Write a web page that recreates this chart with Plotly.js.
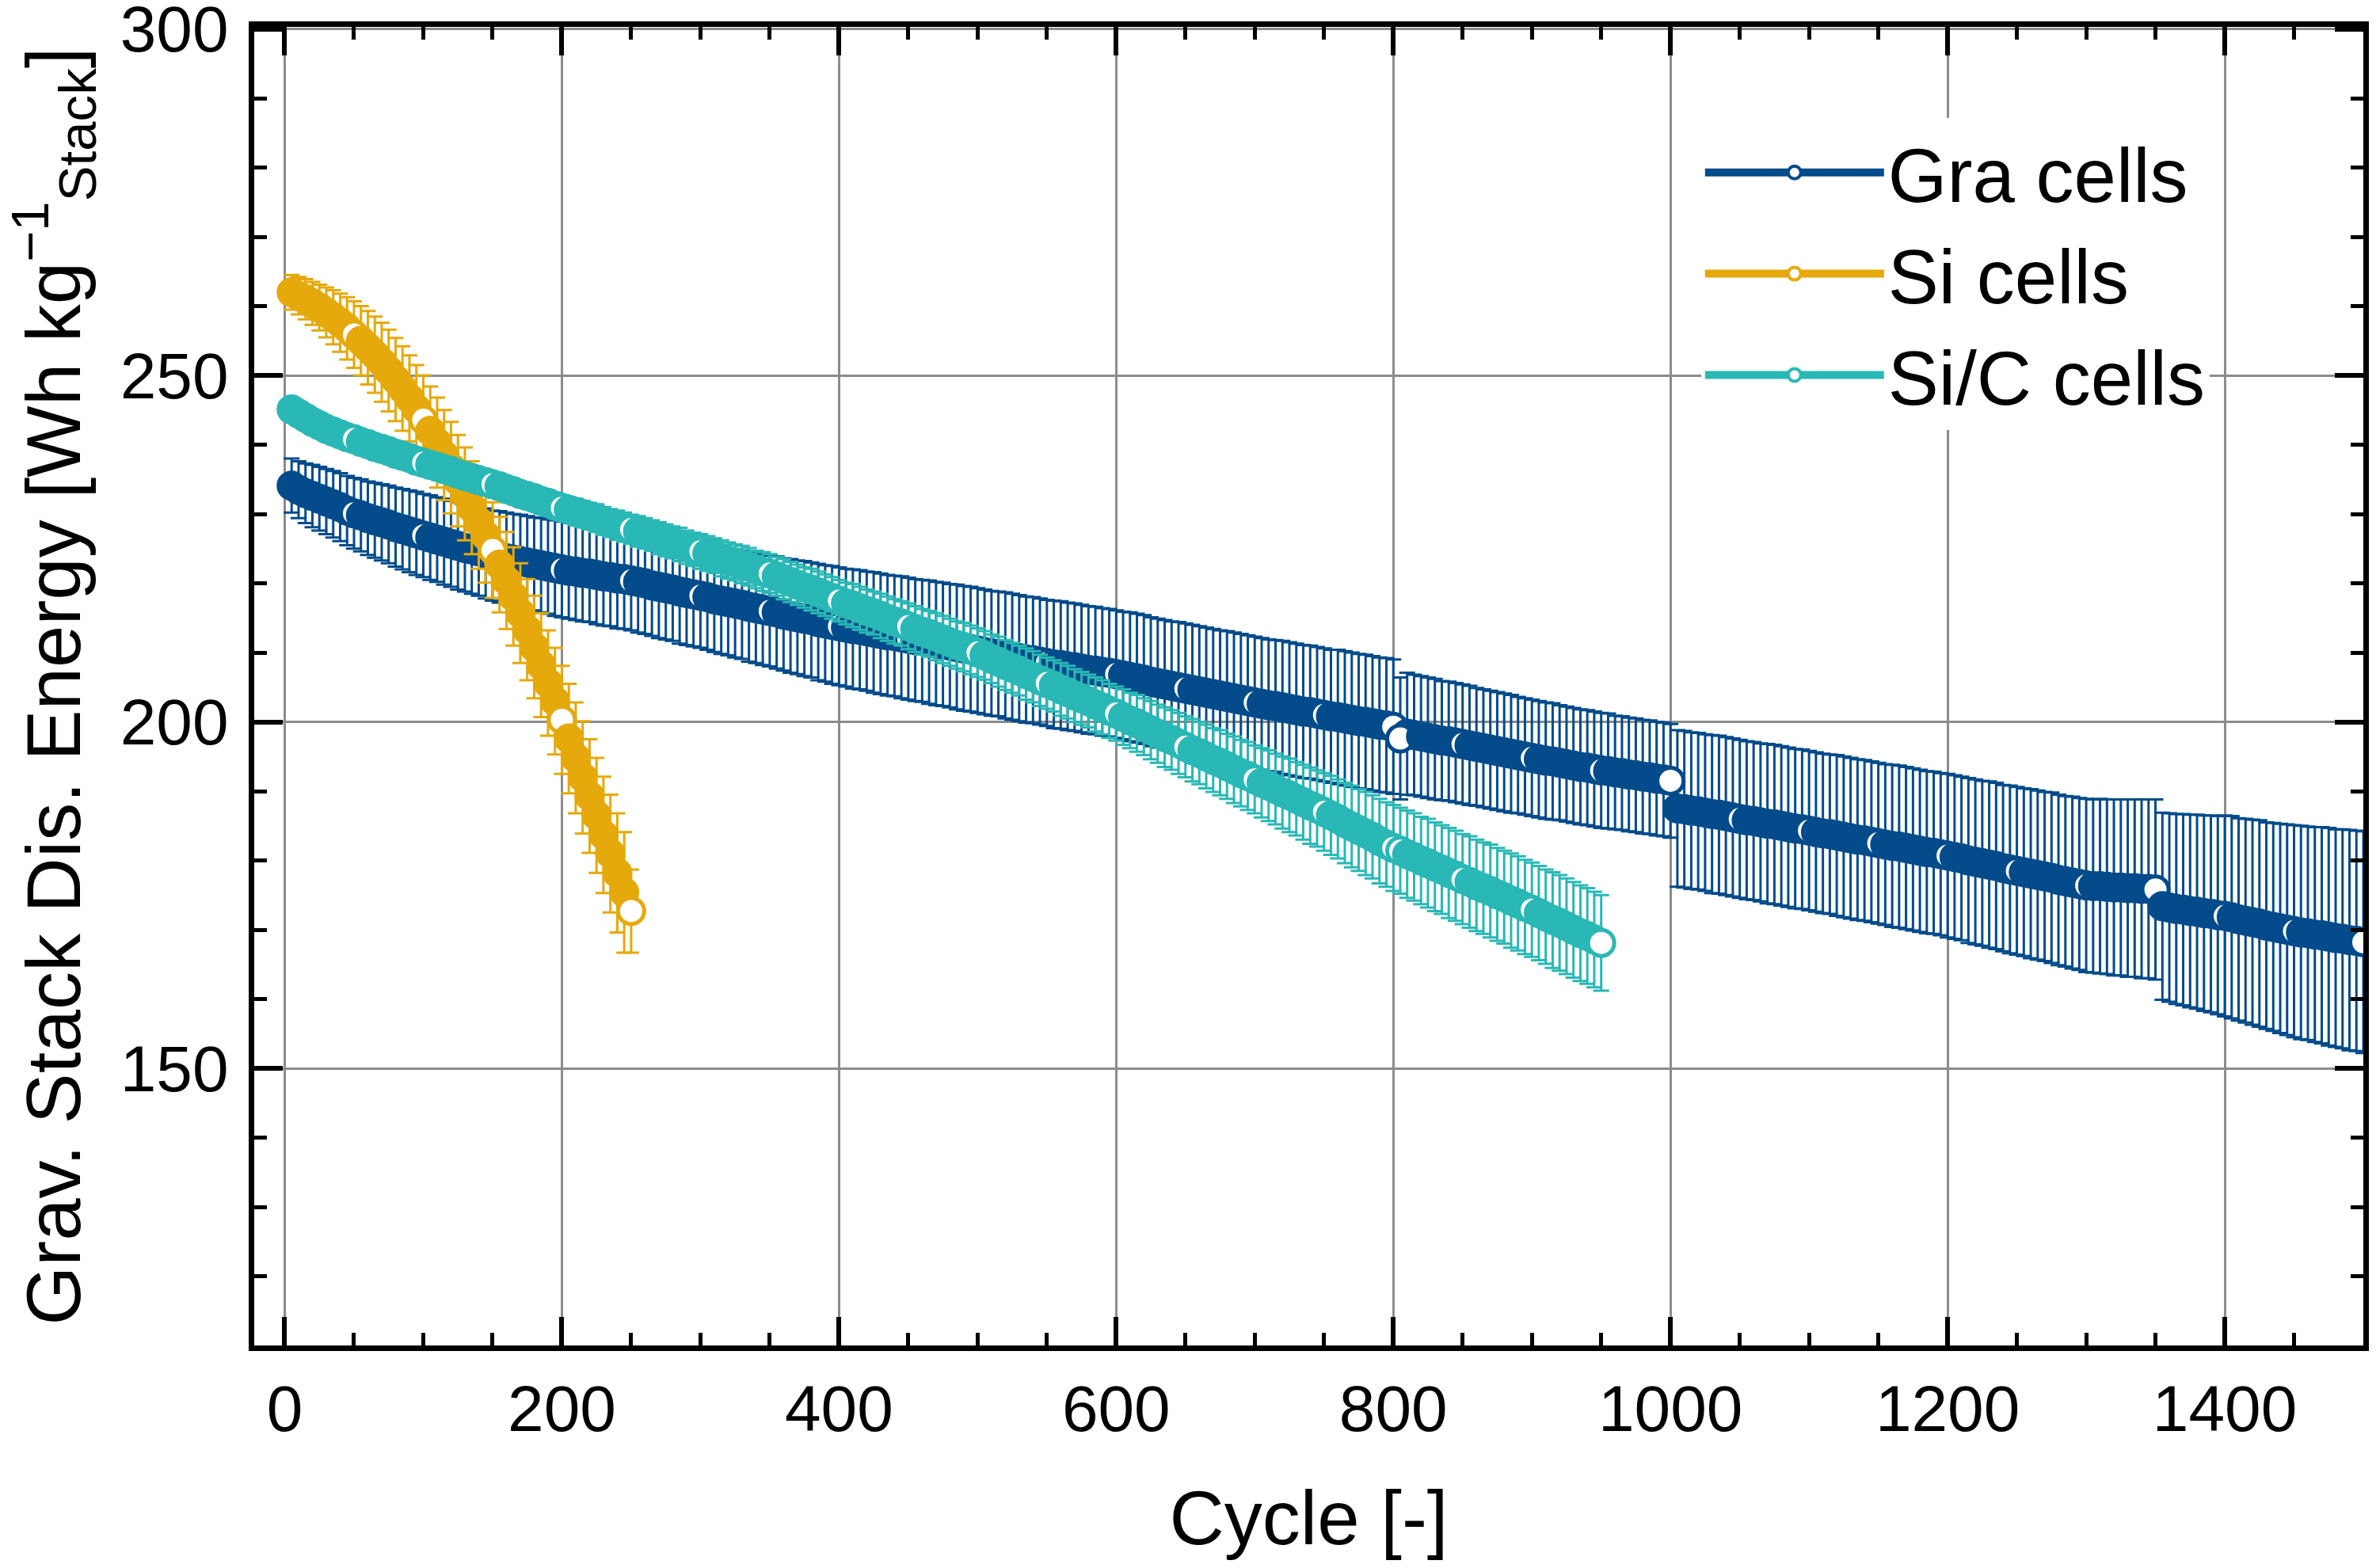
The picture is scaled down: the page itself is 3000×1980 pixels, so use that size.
<!DOCTYPE html>
<html><head><meta charset="utf-8">
<script src="https://cdn.plot.ly/plotly-3.0.1.min.js"></script>
<style>html,body{margin:0;padding:0;background:#fff}#chart{width:3000px;height:1980px}</style>
</head><body><div id="chart"></div>
<script>
// ---------- data ----------
const seriesNames = ['Gra cells', 'Si cells', 'Si/C cells'];

const graCycle = [
5,10,15,20,25,30,35,40,45,50,55,60,65,70,75,80,85,90,95,100,
105,110,115,120,125,130,135,140,145,150,155,160,165,170,175,180,185,190,195,200,
205,210,215,220,225,230,235,240,245,250,255,260,265,270,275,280,285,290,295,300,
305,310,315,320,325,330,335,340,345,350,355,360,365,370,375,380,385,390,395,400,
405,410,415,420,425,430,435,440,445,450,455,460,465,470,475,480,485,490,495,500,
505,510,515,520,525,530,535,540,545,550,555,560,565,570,575,580,585,590,595,600,
605,610,615,620,625,630,635,640,645,650,655,660,665,670,675,680,685,690,695,700,
705,710,715,720,725,730,735,740,745,750,755,760,765,770,775,780,785,790,795,800,
810,815,805,
820,825,830,835,840,845,850,855,860,865,870,875,880,885,890,895,900,
905,910,915,920,925,930,935,940,945,950,955,960,965,970,975,980,985,990,995,1000,
1005,1010,1015,1020,1025,1030,1035,1040,1045,1050,1055,1060,1065,1070,1075,1080,1085,1090,1095,1100,
1105,1110,1115,1120,1125,1130,1135,1140,1145,1150,1155,1160,1165,1170,1175,1180,1185,1190,1195,1200,
1205,1210,1215,1220,1225,1230,1235,1240,1245,1250,1255,1260,1265,1270,1275,1280,1285,1290,1295,1300,
1305,1310,1315,1320,1325,1330,1335,1340,1345,1350,1355,1360,1365,1370,1375,1380,1385,1390,1395,1400,
1405,1410,1415,1420,1425,1430,1435,1440,1445,1450,1455,1460,1465,1470,1475,1480,1485,1490,1495,1500];
const graEnergy = [
234.1,233.5,233.0,232.6,232.2,231.8,231.4,231.0,230.5,230.1,229.8,229.4,229.1,228.8,228.5,228.1,227.8,227.5,227.2,226.9,
226.6,226.3,226.0,225.7,225.4,225.1,224.9,224.6,224.3,224.0,223.8,223.6,223.4,223.2,223.0,222.8,222.6,222.4,222.2,222.0,
221.8,221.7,221.5,221.4,221.2,221.0,220.9,220.7,220.6,220.4,220.2,220.0,219.7,219.5,219.3,219.1,218.8,218.6,218.4,218.2,
218.0,217.7,217.5,217.3,217.1,216.9,216.6,216.4,216.2,216.0,215.8,215.5,215.3,215.1,214.9,214.7,214.4,214.2,214.0,213.8,
213.6,213.4,213.3,213.1,212.9,212.7,212.5,212.4,212.2,212.0,211.8,211.7,211.5,211.3,211.2,211.0,210.8,210.6,210.5,210.3,
210.1,209.9,209.8,209.6,209.4,209.2,209.0,208.9,208.7,208.5,208.3,208.2,208.0,207.9,207.7,207.5,207.4,207.2,207.1,206.9,
206.7,206.5,206.3,206.1,205.8,205.6,205.4,205.2,205.0,204.8,204.6,204.4,204.2,204.0,203.8,203.6,203.4,203.2,203.0,202.8,
202.6,202.4,202.3,202.1,201.9,201.7,201.5,201.4,201.2,201.0,200.8,200.7,200.5,200.3,200.1,200.0,199.8,199.6,199.5,199.3,
198.3,198.1,197.6,
197.9,197.7,197.5,197.3,197.2,197.0,196.8,196.6,196.4,196.2,196.0,195.8,195.6,195.4,195.2,195.0,194.8,
194.6,194.4,194.3,194.1,193.9,193.7,193.5,193.4,193.2,193.0,192.9,192.7,192.6,192.4,192.3,192.1,192.0,191.8,191.7,191.5,
187.5,187.4,187.2,187.1,186.9,186.7,186.6,186.4,186.2,186.0,185.8,185.7,185.5,185.3,185.2,185.0,184.8,184.6,184.5,184.3,
184.1,183.9,183.8,183.6,183.4,183.2,183.0,182.9,182.7,182.5,182.3,182.1,182.0,181.8,181.6,181.4,181.2,181.1,180.9,180.7,
180.5,180.3,180.0,179.8,179.6,179.4,179.2,178.9,178.7,178.5,178.3,178.1,177.9,177.7,177.5,177.2,177.0,176.8,176.6,176.4,
176.3,176.3,176.2,176.1,176.1,176.0,176.0,175.9,175.9,175.8,173.4,173.2,173.0,172.9,172.7,172.6,172.4,172.3,172.1,172.0,
171.8,171.5,171.3,171.1,170.9,170.6,170.4,170.2,170.0,169.8,169.6,169.5,169.3,169.2,169.0,168.8,168.7,168.5,168.4,168.2];
const graError = [
3.9,4.1,4.3,4.5,4.6,4.7,4.8,4.9,5.0,5.1,5.2,5.3,5.4,5.5,5.6,5.7,5.8,5.9,6.0,6.0,
6.1,6.1,6.2,6.2,6.3,6.3,6.4,6.4,6.5,6.5,6.6,6.6,6.6,6.7,6.7,6.7,6.8,6.8,6.9,6.9,
6.9,7.0,7.0,7.0,7.1,7.1,7.1,7.2,7.2,7.2,7.3,7.3,7.3,7.4,7.4,7.4,7.5,7.5,7.5,7.5,
7.6,7.6,7.7,7.7,7.8,7.8,7.9,7.9,8.0,8.0,8.1,8.1,8.2,8.2,8.3,8.3,8.4,8.4,8.5,8.5,
8.5,8.6,8.6,8.6,8.7,8.7,8.7,8.7,8.8,8.8,8.8,8.8,8.9,8.9,8.9,8.9,9.0,9.0,9.0,9.0,
9.0,9.0,9.0,9.1,9.1,9.1,9.1,9.1,9.1,9.1,9.2,9.2,9.2,9.2,9.2,9.2,9.2,9.2,9.2,9.2,
9.2,9.3,9.3,9.3,9.3,9.3,9.3,9.3,9.4,9.4,9.4,9.4,9.4,9.4,9.4,9.5,9.5,9.5,9.5,9.5,
9.5,9.5,9.5,9.6,9.6,9.6,9.6,9.6,9.6,9.6,9.6,9.7,9.7,9.7,9.7,9.7,9.7,9.7,9.7,9.7,
8.8,8.7,8.8,
8.7,8.7,8.7,8.6,8.6,8.6,8.6,8.6,8.5,8.5,8.5,8.5,8.5,8.5,8.4,8.4,8.4,
8.4,8.4,8.4,8.3,8.3,8.3,8.3,8.3,8.3,8.3,8.3,8.2,8.2,8.2,8.2,8.2,8.2,8.2,8.2,8.2,
11.3,11.3,11.3,11.3,11.3,11.4,11.4,11.4,11.4,11.4,11.4,11.4,11.4,11.5,11.5,11.5,11.5,11.5,11.5,11.5,
11.5,11.5,11.5,11.6,11.6,11.6,11.6,11.6,11.6,11.6,11.6,11.7,11.7,11.7,11.7,11.7,11.7,11.7,11.7,11.8,
11.8,11.8,11.9,11.9,11.9,12.0,12.0,12.0,12.1,12.1,12.1,12.2,12.2,12.2,12.3,12.3,12.3,12.4,12.4,12.5,
12.5,12.6,12.6,12.7,12.7,12.8,12.8,12.9,12.9,13.0,13.5,13.6,13.7,13.8,13.9,14.0,14.1,14.2,14.3,14.5,
14.6,14.6,14.7,14.8,14.9,14.9,15.0,15.1,15.2,15.3,15.4,15.4,15.5,15.6,15.7,15.7,15.8,15.9,15.9,16.0];

const siCycle = [
5,10,15,20,25,30,35,40,45,50,55,60,65,70,75,80,85,90,95,100,
105,110,115,120,125,130,135,140,145,150,155,160,165,170,175,180,185,190,195,200,
205,210,215,220,225,230,235,240,245,250];
const siEnergy = [
262.0,261.5,261.0,260.4,259.8,259.1,258.4,257.6,256.8,255.9,255.0,254.0,253.0,251.9,250.7,249.4,248.1,246.7,245.2,243.6,
242.0,240.3,238.5,236.7,234.8,232.9,230.9,228.9,226.9,224.8,222.7,220.4,218.1,215.7,213.3,210.8,208.2,205.6,203.0,200.3,
197.6,194.8,192.0,189.3,186.5,183.7,181.0,178.2,175.4,172.7];
const siError = [
2.5,2.7,2.9,3.1,3.3,3.6,3.9,4.2,4.5,4.8,5.0,5.3,5.5,5.7,5.9,6.0,6.1,6.2,6.3,6.4,
6.4,6.5,6.5,6.6,6.6,6.7,6.7,6.8,6.8,6.9,6.9,7.0,7.1,7.2,7.3,7.4,7.5,7.6,7.7,7.8,
7.9,8.0,8.1,8.2,8.3,8.4,8.5,8.6,8.7,6.0];

const sicCycle = [
5,10,15,20,25,30,35,40,45,50,55,60,65,70,75,80,85,90,95,100,
105,110,115,120,125,130,135,140,145,150,155,160,165,170,175,180,185,190,195,200,
205,210,215,220,225,230,235,240,245,250,255,260,265,270,275,280,285,290,295,300,
305,310,315,320,325,330,335,340,345,350,355,360,365,370,375,380,385,390,395,400,
405,410,415,420,425,430,435,440,445,450,455,460,465,470,475,480,485,490,495,500,
505,510,515,520,525,530,535,540,545,550,555,560,565,570,575,580,585,590,595,600,
605,610,615,620,625,630,635,640,645,650,655,660,665,670,675,680,685,690,695,700,
705,710,715,720,725,730,735,740,745,750,755,760,765,770,775,780,785,790,795,800,
805,810,815,820,825,830,835,840,845,850,855,860,865,870,875,880,885,890,895,900,
905,910,915,920,925,930,935,940,945,950];
const sicEnergy = [
245.1,244.5,243.9,243.3,242.8,242.3,241.9,241.5,241.1,240.8,240.4,240.1,239.7,239.4,239.1,238.7,238.4,238.1,237.7,237.4,
237.1,236.8,236.5,236.2,235.8,235.5,235.2,234.9,234.6,234.3,234.0,233.6,233.3,232.9,232.6,232.3,231.9,231.6,231.2,230.9,
230.6,230.3,230.0,229.7,229.4,229.0,228.7,228.4,228.1,227.8,227.5,227.2,226.9,226.5,226.2,225.9,225.6,225.2,224.9,224.6,
224.3,224.0,223.6,223.3,223.0,222.7,222.4,222.0,221.7,221.4,221.0,220.6,220.2,219.8,219.4,219.1,218.7,218.3,217.9,217.5,
217.1,216.8,216.4,216.0,215.7,215.3,214.9,214.5,214.2,213.8,213.4,213.0,212.7,212.3,211.9,211.5,211.1,210.8,210.4,210.0,
209.6,209.1,208.7,208.2,207.8,207.4,206.9,206.5,206.0,205.6,205.2,204.7,204.3,203.8,203.4,203.0,202.5,202.1,201.6,201.2,
200.7,200.2,199.8,199.3,198.8,198.3,197.8,197.4,196.9,196.4,195.9,195.5,195.0,194.5,194.1,193.6,193.1,192.6,192.2,191.7,
191.2,190.8,190.3,189.8,189.4,188.9,188.4,187.9,187.5,187.0,186.5,186.0,185.4,184.9,184.4,183.9,183.4,182.8,182.3,181.8,
181.4,180.9,180.5,180.0,179.6,179.1,178.7,178.2,177.8,177.3,176.9,176.4,176.0,175.6,175.1,174.7,174.2,173.8,173.3,172.9,
172.4,171.9,171.4,171.0,170.5,170.0,169.5,169.1,168.6,168.1];
const sicError = [
0.8,0.8,0.8,0.9,0.9,0.9,0.9,1.0,1.0,1.0,1.0,1.0,1.1,1.1,1.1,1.1,1.2,1.2,1.2,1.2,
1.2,1.3,1.3,1.3,1.4,1.4,1.4,1.5,1.5,1.5,1.5,1.6,1.6,1.6,1.7,1.7,1.7,1.8,1.8,1.8,
1.8,1.9,1.9,1.9,2.0,2.0,2.0,2.1,2.1,2.1,2.2,2.2,2.2,2.3,2.3,2.3,2.4,2.4,2.4,2.5,
2.5,2.5,2.6,2.6,2.6,2.7,2.7,2.7,2.8,2.8,2.8,2.9,2.9,2.9,2.9,3.0,3.0,3.0,3.0,3.0,
3.0,3.1,3.1,3.1,3.1,3.2,3.2,3.2,3.2,3.3,3.3,3.3,3.3,3.4,3.4,3.4,3.4,3.5,3.5,3.5,
3.5,3.5,3.6,3.6,3.6,3.6,3.7,3.7,3.7,3.7,3.7,3.8,3.8,3.8,3.8,3.8,3.9,3.9,3.9,3.9,
4.0,4.0,4.1,4.1,4.2,4.2,4.3,4.3,4.4,4.4,4.5,4.5,4.6,4.6,4.7,4.7,4.8,4.8,4.9,4.9,
5.0,5.1,5.1,5.2,5.3,5.3,5.4,5.5,5.5,5.6,5.7,5.7,5.8,5.9,5.9,6.0,6.0,6.1,6.1,6.2,
6.2,6.3,6.3,6.3,6.4,6.4,6.4,6.5,6.5,6.5,6.6,6.6,6.6,6.7,6.7,6.7,6.8,6.8,6.8,6.8,
6.8,6.8,6.9,6.9,6.9,6.9,6.9,6.9,6.9,6.9];

// cycles whose markers are drawn open (besides every 50th cycle)
const extraOpenCycles = [805];

const xTickVals = [0, 200, 400, 600, 800, 1000, 1200, 1400];
const yTickVals = [150, 200, 250, 300];

// ---------- styling ----------
const FONT = '"Liberation Sans", Arial, Helvetica, sans-serif';
const COLORS = ['#034b8b', '#e6a90b', '#29b8b5'];

function seriesTrace(name, x, y, err, color) {
  const fill = x.map(c => (c % 50 === 0 || extraOpenCycles.includes(c)) ? '#ffffff' : color);
  return {
    type: 'scatter', mode: 'markers', name: name, x: x, y: y,
    showlegend: false, hoverinfo: 'skip', cliponaxis: true,
    marker: {symbol: 'circle', size: 33, color: fill, line: {color: color, width: 5}},
    error_y: {type: 'data', array: err, visible: true, color: color, thickness: 3, width: 10}
  };
}
function legendTrace(name, color) {
  return {
    type: 'scatter', mode: 'lines+markers', name: name, x: [null], y: [null],
    showlegend: true, hoverinfo: 'skip',
    line: {color: color, width: 12},
    marker: {symbol: 'circle', size: 16, color: '#ffffff', line: {color: color, width: 4}}
  };
}

const data = [
  seriesTrace(seriesNames[0], graCycle, graEnergy, graError, COLORS[0]),
  seriesTrace(seriesNames[1], siCycle, siEnergy, siError, COLORS[1]),
  seriesTrace(seriesNames[2], sicCycle, sicEnergy, sicError, COLORS[2]),
  legendTrace(seriesNames[0], COLORS[0]),
  legendTrace(seriesNames[1], COLORS[1]),
  legendTrace(seriesNames[2], COLORS[2])
];

const axisCommon = {
  showline: true, linewidth: 7, linecolor: '#000', mirror: 'ticks',
  ticks: 'inside', ticklen: 36, tickwidth: 6, tickcolor: '#000',
  showgrid: true, gridcolor: '#8c8c8c', gridwidth: 3, zeroline: false,
  tickfont: {family: FONT, size: 82, color: '#000'},
  ticklabeloverflow: 'allow',
  automargin: false, tickmode: 'array'
};

const layout = {
  width: 3000, height: 1980,
  paper_bgcolor: '#ffffff', plot_bgcolor: '#ffffff',
  margin: {l: 321, r: 16, t: 34, b: 281, pad: 0},
  font: {family: FONT, color: '#000'},
  showlegend: true,
  xaxis: Object.assign({}, axisCommon, {
    range: [-22, 1500], tickvals: xTickVals, ticktext: xTickVals.map(String),
    ticklabelstandoff: 3,
    minor: {tick0: 0, dtick: 50, ticks: 'inside', ticklen: 16, tickwidth: 5, tickcolor: '#000', showgrid: false},
    title: {text: 'Cycle [-]', font: {family: FONT, size: 96, color: '#000'}, standoff: 62}
  }),
  yaxis: Object.assign({}, axisCommon, {
    range: [110, 300.3], tickvals: yTickVals, ticktext: yTickVals.map(String),
    ticklabelstandoff: 9,
    minor: {tick0: 0, dtick: 10, ticks: 'inside', ticklen: 16, tickwidth: 5, tickcolor: '#000', showgrid: false},
    title: {text: 'Grav. Stack Dis. Energy [Wh kg<sup>\u22121</sup><sub>Stack</sub>]', font: {family: FONT, size: 96, color: '#000'}, standoff: 62}
  }),
  legend: {
    x: 0.686, y: 0.931, xanchor: 'left', yanchor: 'top',
    bgcolor: '#ffffff', borderwidth: 0,
    font: {family: FONT, size: 96, color: '#000'},
    itemwidth: 226, tracegroupgap: 0, itemsizing: 'trace'
  }
};

Plotly.newPlot('chart', data, layout, {displayModeBar: false, staticPlot: true});
</script>
</body></html>
